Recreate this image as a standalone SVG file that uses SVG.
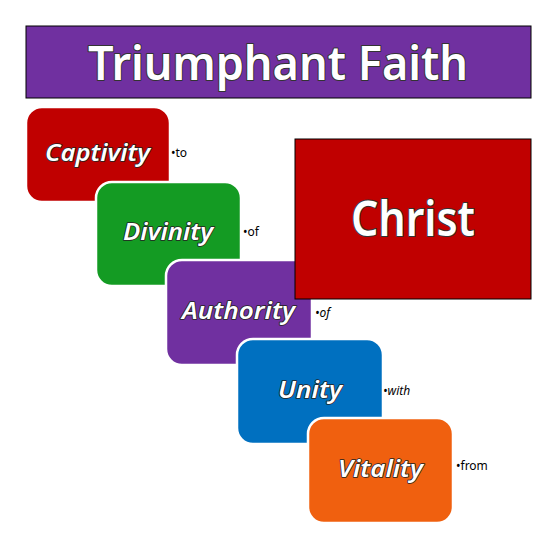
<svg xmlns="http://www.w3.org/2000/svg" width="548" height="547" viewBox="0 0 548 547">
<style>
.box{stroke:#fff;stroke-width:2.5}
.lbl{font-family:"Noto Sans","Liberation Sans",sans-serif;font-style:italic;font-weight:600;font-size:24px;fill:#fff;stroke:#222;stroke-width:1.6;paint-order:stroke;stroke-linejoin:round}
.big{font-family:"Noto Sans","Liberation Sans",sans-serif;font-weight:600;fill:#fff;stroke:#333;stroke-width:2;paint-order:stroke;stroke-linejoin:round}
.sm{font-family:"Noto Sans","Liberation Sans",sans-serif;font-size:12px;fill:#000}
</style>
<rect width="548" height="547" fill="#fff"/>
<g id="title">
<rect x="26" y="26" width="505" height="72" fill="#7030A0" stroke="#000" stroke-width="1"/>
<text class="big" x="278" y="80" font-size="46" text-anchor="middle" textLength="380" lengthAdjust="spacingAndGlyphs">Triumphant Faith</text>
</g>
<g id="connectors"></g>
<g id="captivity">
<rect class="box" x="26" y="107" width="144" height="95" rx="16" fill="#C00000"/>
<text class="lbl" x="45" y="161" textLength="105" lengthAdjust="spacingAndGlyphs">Captivity</text>
<text class="sm" x="171" y="157">•to</text>
</g>
<g id="divinity">
<rect class="box" x="96" y="182" width="145" height="104" rx="16" fill="#149B23"/>
<text class="lbl" x="123" y="240" textLength="90" lengthAdjust="spacingAndGlyphs">Divinity</text>
<text class="sm" x="243" y="236">•of</text>
</g>
<g id="authority">
<rect class="box" x="166" y="260" width="146" height="105" rx="16" fill="#7030A0"/>
<text class="lbl" x="182" y="319" textLength="113" lengthAdjust="spacingAndGlyphs">Authority</text>
<text class="sm" x="315" y="317" font-style="italic">•of</text>
</g>
<g id="christ">
<rect x="295" y="139" width="236" height="160" fill="#C00000" stroke="#000" stroke-width="1"/>
<text class="big" x="413" y="236" font-size="48" text-anchor="middle" textLength="124" lengthAdjust="spacingAndGlyphs">Christ</text>
</g>
<g id="unity">
<rect class="box" x="237" y="339" width="146" height="105" rx="16" fill="#0070C0"/>
<text class="lbl" x="278" y="398" textLength="64" lengthAdjust="spacingAndGlyphs">Unity</text>
<text class="sm" x="383" y="395" font-style="italic">•with</text>
</g>
<g id="vitality">
<rect class="box" x="308" y="418" width="145" height="105" rx="16" fill="#F0600F"/>
<text class="lbl" x="338" y="477" textLength="85" lengthAdjust="spacingAndGlyphs">Vitality</text>
<text class="sm" x="456" y="470">•from</text>
</g>
</svg>
